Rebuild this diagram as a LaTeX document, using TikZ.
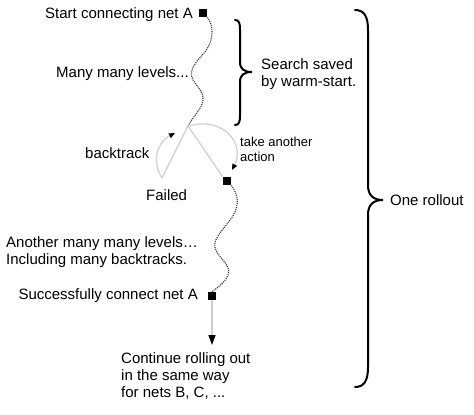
\documentclass[tikz,border=0pt]{standalone}
\usepackage{fontspec}
\setmainfont{Liberation Sans}
\usetikzlibrary{arrows.meta}
\definecolor{linegray}{HTML}{CFCFCF}
\definecolor{dotgray}{HTML}{333333}
\begin{document}
\begin{tikzpicture}[x=1pt,y=-1pt,
  sq/.style={rectangle,fill=black,minimum size=8.5pt,inner sep=0pt},
  txt/.style={inner sep=0pt,font=\fontsize{15}{17}\selectfont},
  smalltxt/.style={inner sep=0pt,font=\fontsize{13}{14.5}\selectfont},
  dotline/.style={dotgray,densely dotted,line width=1.1pt},
  grayline/.style={linegray,line width=1.2pt},
  grayarrow/.style={linegray,line width=1.2pt,-{Triangle[length=6pt,width=5pt,black]}},
  bracepath/.style={black,line width=2pt,line cap=round}
]
\useasboundingbox[fill=white] (0,0) rectangle (474,415);

% squares
\node[sq] (s1) at (203,13) {};
\node[sq] (s2) at (227,181) {};
\node[sq] (s3) at (212,296) {};
\coordinate (b) at (188,126);
\coordinate (f) at (162,178);
\coordinate (bt) at (175,133);
\coordinate (ta) at (232,170);
\coordinate (cont) at (212,345);

% dotted wavy paths
\draw[dotline] (s1.south east) .. controls (213,25) and (215,38) .. (205,52)
  .. controls (196,62) and (188,70) .. (193,80)
  .. controls (198,88) and (206,94) .. (202,104)
  .. controls (199,112) and (192,118) .. (b);
\draw[dotline] (s2.south east) .. controls (236,192) and (240,200) .. (235,212)
  .. controls (229,225) and (212,237) .. (215,248)
  .. controls (218,258) and (232,265) .. (228,275)
  .. controls (225,283) and (217,288) .. (s3.north);

% branch lines
\draw[grayline] (b) -- (f);
\draw[grayline] (b) -- (s2.north west);
\draw[grayarrow] (f) .. controls (152,162) and (156,143) .. (bt);
\draw[grayarrow] (b) .. controls (225,116) and (245,145) .. (ta);
\draw[linegray,line width=1.4pt,-{Triangle[length=10pt,width=7pt,black]}] (s3.south) -- (cont);

% braces
\draw[bracepath] (235,20) .. controls (239,20) and (240,23) .. (240,30)
  -- (240,62) .. controls (240,69) and (244,72) .. (252,72)
  .. controls (244,72) and (240,75) .. (240,82)
  -- (240,115) .. controls (240,122) and (239,125) .. (235,125);
\draw[bracepath] (355,10) .. controls (364,10) and (368,16) .. (368,30)
  -- (368,185) .. controls (368,195) and (373,200) .. (383,200)
  .. controls (373,200) and (368,205) .. (368,215)
  -- (368,367) .. controls (368,381) and (364,387) .. (355,387);

% texts
\node[txt,anchor=base east] (t1) at (193,18) {Start connecting net A};
\node[txt,anchor=base west] (t2) at (56,77) {Many many levels...};
\node[txt,anchor=north west,align=left] (t3) at (261,58) {Search saved\\by warm-start.};
\node[txt,anchor=base west] (t4) at (85,158) {backtrack};
\node[txt,anchor=base west] (t5) at (146,200) {Failed};
\node[smalltxt,anchor=north west,align=left] (t6) at (240,137) {take another\\action};
\node[txt,anchor=base west] (t7) at (390,205) {One rollout};
\node[txt,anchor=north west,align=left] (t8) at (6,236) {Another many many levels…\\Including many backtracks.};
\node[txt,anchor=base east] (t9) at (198,299) {Successfully connect net A};
\node[txt,anchor=north west,align=left] (t10) at (121,352) {Continue rolling out\\in the same way\\for nets B, C, ...};
\end{tikzpicture}
\end{document}
